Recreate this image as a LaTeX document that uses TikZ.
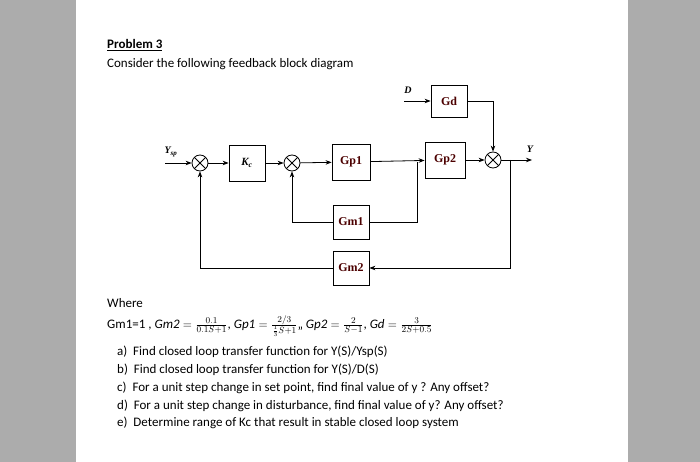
\documentclass[tikz,border=0pt]{standalone}
\usepackage{fontspec}
\setmainfont{Carlito}
\newfontfamily\serifb{Liberation Serif}
\usetikzlibrary{arrows.meta}
\newcommand{\mysz}{\fontsize{13}{15}\selectfont}
\begin{document}
\begin{tikzpicture}[x=1pt,y=-1pt,
 blk/.style={draw,thick,minimum width=36pt,minimum height=36pt,font=\serifb\bfseries\fontsize{12}{14}\selectfont,text=black!70!red},
 sm/.style={draw,circle,thick,minimum size=16pt,inner sep=0pt,path picture={\draw (path picture bounding box.north west)--(path picture bounding box.south east) (path picture bounding box.north east)--(path picture bounding box.south west);}},
 ar/.style={thick,-{Stealth[length=6pt]}},
 ln/.style={thick},
 lab/.style={font=\serifb\bfseries\itshape\fontsize{10}{12}\selectfont},
 txt/.style={anchor=west,font=\mysz,inner sep=0pt}]
\fill[gray!65] (0,0) rectangle (700,462);
\fill[white] (76,0) rectangle (628,462);
\useasboundingbox (0,0) rectangle (700,462);
\node[txt,font=\mysz\bfseries] (t1) at (107,45) {\underline{Problem 3}};
\node[txt] (t2) at (107,64) {Consider the following feedback block diagram};
% diagram
\node[sm] (s1) at (200,163) {};
\node[blk,font=\serifb\bfseries\itshape\fontsize{11}{13}\selectfont,text=black] (kc) at (247,163) {K\textsubscript{c}};
\node[sm] (s2) at (292,163) {};
\node[blk,minimum width=38pt] (gp1) at (351,162) {Gp1};
\node[blk,minimum width=40pt] (gp2) at (445,160) {Gp2};
\node[sm] (s3) at (493,160) {};
\node[blk,minimum height=32pt] (gd) at (449,101) {Gd};
\node[blk,minimum height=34pt] (gm1) at (351,222) {Gm1};
\node[blk,minimum height=34pt] (gm2) at (351,268) {Gm2};
\coordinate (ysp) at (165,163);
\node[lab] (yspl) at (171,152) {Y\textsubscript{sp}};
\coordinate (din) at (404,101);
\node[lab] (dl) at (408,90) {D};
\coordinate (yout) at (532,160);
\node[lab] (yl) at (530,149) {Y};
\coordinate (b1) at (417,162);
\coordinate (b2) at (510,160);
\draw[ar] (ysp)--(s1);
\draw[ar] (s1)--(kc);
\draw[ar] (kc)--(s2);
\draw[ar] (s2)--(gp1);
\draw[ar] (gp1)--(gp2);
\draw[ar] (gp2)--(s3);
\draw[ar] (s3)--(yout);
\draw[ar] (din)--(gd);
\draw[ar] (gd.east)-|(s3.north);
\draw[ln] (b1)|-(gm1.east);
\draw[ar] (gm1.west)-|(s2.south);
\draw[ar] (b2)|-(gm2.east);
\draw[ar] (gm2.west)-|(s1.south);
% text
\node[txt] (w) at (107,303) {Where};
\node[txt] (eq) at (107,326) {Gm1=1 , $\mathit{Gm2}=\frac{0.1}{0.1S+1}$, $\mathit{Gp1}=\frac{2/3}{\frac13 S+1}$,, $\mathit{Gp2}=\frac{2}{S-1}$, $\mathit{Gd}=\frac{3}{2S+0.5}$};
\node[txt] (qa) at (117,352) {a)\ \ Find closed loop transfer function for Y(S)/Ysp(S)};
\node[txt] (qb) at (117,370) {b)\ \ Find closed loop transfer function for Y(S)/D(S)};
\node[txt] (qc) at (117,388) {c)\ \ For a unit step change in set point, find final value of y ? Any offset?};
\node[txt] (qd) at (117,406) {d)\ \ For a unit step change in disturbance, find final value of y? Any offset?};
\node[txt] (qe) at (117,423) {e)\ \ Determine range of Kc that result in stable closed loop system};
\end{tikzpicture}
\end{document}
